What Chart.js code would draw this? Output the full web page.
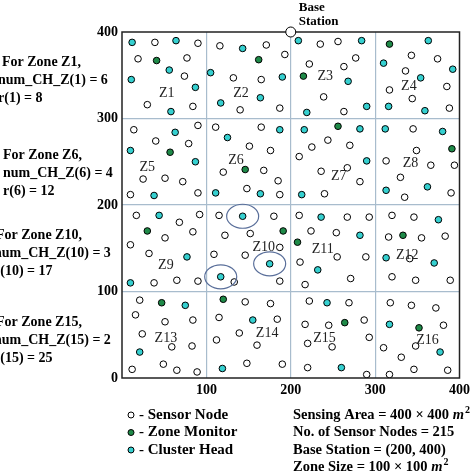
<!DOCTYPE html>
<html>
<head>
<meta charset="utf-8">
<script src="https://cdn.jsdelivr.net/npm/chart.js@4"></script>
<style>body{margin:0;background:#fff}</style>
</head>
<body>
<canvas id="net" width="474" height="474"></canvas>
<script>
// [x, y] positions of nodes
const sensorNodes = [
  [39,388],[90,387],[19,369],[77,370],[74,349],[30,316],[84,314],
  [116,384],[171,385],[193,374],[132,347],[165,345],[140,310],[187,312],
  [235,386],[256,389],[277,370],[222,363],[263,360],[239,325],[263,308],
  [343,373],[374,369],[336,355],[385,337],[317,333],[344,323],[388,312],
  [14,287],[90,292],[40,274],[79,271],[25,230],[51,231],[72,227],[10,212],[90,214],
  [111,290],[165,290],[151,268],[176,263],[120,238],[168,240],[185,228],[148,219],[187,212],
  [244,275],[225,267],[270,269],[210,256],[267,243],[236,239],[282,227],[240,213],
  [345,288],[349,263],[313,251],[366,246],[394,246],[330,232],[335,209],[390,214],
  [17,188],[92,189],[68,180],[84,169],[51,162],[10,154],[32,144],[38,110],[65,113],[90,112],
  [115,188],[180,187],[122,165],[152,167],[109,143],[146,142],[187,151],[133,111],[187,112],
  [210,188],[267,186],[293,186],[224,170],[254,168],[255,140],[289,140],[211,134],[271,115],[217,108],
  [320,188],[346,186],[316,163],[355,162],[383,164],[341,138],[320,117],[348,113],[389,113],
  [21,90],[16,73],[51,65],[84,67],[24,51],[59,36],[83,37],[49,16],[65,9],[89,7],[12,10],
  [146,88],[176,86],[115,70],[184,68],[139,52],[112,44],[160,38],[148,17],[190,16],
  [222,89],[269,87],[217,62],[245,61],[287,67],[293,47],[220,40],[249,36],[220,12],[290,4],
  [318,87],[343,84],[372,81],[381,61],[310,35],[348,37],[331,24],[346,10],[317,4],[386,9]
];
const zoneMonitors = [
  [41,367],[162,368],[215,349],[317,386],[57,261],[146,241],[256,291],[391,265],
  [30,170],[191,170],[208,157],[333,165],[47,87],[120,91],[264,64],[352,58]
];
const clusterHeads = [
  [12,388],[64,390],[56,356],[11,345],[87,336],[58,308],
  [143,381],[105,353],[190,348],[164,324],[117,318],
  [209,390],[284,390],[268,343],[219,307],[290,314],
  [363,390],[310,364],[392,357],[354,347],[316,314],[359,309],
  [63,284],[10,263],[87,250],[38,211],
  [125,278],[187,287],[111,214],[164,213],
  [216,287],[282,288],[290,251],[213,212],
  [312,288],[380,285],[362,221],[313,217],
  [44,188],[77,140],[10,110],
  [143,187],[175,132],[117,117],
  [236,186],[282,165],[232,125],
  [375,183],[313,139],[370,133],
  [75,84],[21,30],[155,67],[119,11],[243,87],[260,12],[317,62],[377,30]
];
const baseStation = [200, 400];
const zoneNames = ['Z1','Z2','Z3','Z4','Z5','Z6','Z7','Z8','Z9','Z10','Z11','Z12','Z13','Z14','Z15','Z16'];
const zoneLabelPos = [[53,329],[141,329],[241,349],[340,337],[30,244],[135,252],[257,233],[342,248],
  [52,130],[168,151],[238,149],[338,142],[52,46],[172,52],[240,46],[362,44]];
const highlighted = [[143,187],[175,132],[117,117]];
const xTicks = [100, 200, 300, 400];
const yTicks = [0, 100, 200, 300, 400];
const zoneNotes = [
  ['For Zone Z1,', 'num_CH_Z(1) = 6', 'r(1) = 8'],
  ['For Zone Z6,', 'num_CH_Z(6) = 4', 'r(6) = 12'],
  ['For Zone Z10,', 'num_CH_Z(10) = 3', 'r(10) = 17'],
  ['For Zone Z15,', 'num_CH_Z(15) = 2', 'r(15) = 25']
];
const legendItems = ['- Sensor Node', '- Zone Monitor', '- Cluster Head'];
const infoLines = ['Sensing Area = 400 \u00d7 400 ', 'No. of Sensor Nodes = 215', 'Base Station = (200, 400)', 'Zone Size = 100 \u00d7 100 '];

const toPts = arr => arr.map(p => ({x: p[0], y: p[1]}));
const SERIF = '"Liberation Serif", "DejaVu Serif", serif';

const extras = {
  id: 'extras',
  afterDraw(chart) {
    const ctx = chart.ctx, xs = chart.scales.x, ys = chart.scales.y, a = chart.chartArea;
    ctx.save();
    // frame
    ctx.strokeStyle = '#222'; ctx.lineWidth = 1.5;
    ctx.strokeRect(a.left, a.top, a.right - a.left, a.bottom - a.top);
    // highlight ellipses
    ctx.strokeStyle = '#5a6f9a'; ctx.lineWidth = 1.2;
    highlighted.forEach(p => {
      ctx.beginPath();
      ctx.ellipse(xs.getPixelForValue(p[0]), ys.getPixelForValue(p[1]), 16, 12, 0, 0, Math.PI * 2);
      ctx.stroke();
    });
    // zone labels
    ctx.fillStyle = '#222'; ctx.font = '14px ' + SERIF;
    ctx.textAlign = 'center'; ctx.textBaseline = 'middle';
    zoneNames.forEach((n, i) => ctx.fillText(n, xs.getPixelForValue(zoneLabelPos[i][0]), ys.getPixelForValue(zoneLabelPos[i][1])));
    // base station
    const bx = xs.getPixelForValue(baseStation[0]), by = ys.getPixelForValue(baseStation[1]);
    ctx.beginPath(); ctx.arc(bx, by, 5, 0, Math.PI * 2);
    ctx.fillStyle = '#fff'; ctx.fill(); ctx.strokeStyle = '#000'; ctx.lineWidth = 1; ctx.stroke();
    ctx.fillStyle = '#000'; ctx.font = 'bold 13px ' + SERIF; ctx.textAlign = 'left';
    ctx.fillText('Base', bx + 8, 8);
    ctx.fillText('Station', bx + 8, 22);
    // zone notes
    ctx.font = 'bold 14px ' + SERIF;
    const noteY = [62, 155, 235, 322], noteX = [2, 3, -4, -4], noteX2 = [-2, 3, -6, -6];
    zoneNotes.forEach((lines, i) => lines.forEach((t, j) => {
      ctx.fillText(t, j === 0 ? noteX[i] : noteX2[i], noteY[i] + j * 18);
    }));
    // legend
    const fills = ['#fff', '#1e8a48', '#35d0d0'];
    ctx.font = 'bold 15px ' + SERIF;
    legendItems.forEach((t, i) => {
      const ly = 415 + i * 17.5;
      ctx.beginPath(); ctx.arc(131, ly, 3, 0, Math.PI * 2);
      ctx.fillStyle = fills[i]; ctx.fill(); ctx.strokeStyle = '#000'; ctx.stroke();
      ctx.fillStyle = '#000'; ctx.fillText(t, 139, ly);
    });
    infoLines.forEach((t, i) => {
      const ly = 415 + i * 17.5;
      ctx.font = 'bold 14.5px ' + SERIF;
      ctx.fillText(t, 293, ly);
      if (i === 0 || i === 3) {
        const w = ctx.measureText(t).width;
        ctx.font = 'bold italic 14.5px ' + SERIF;
        ctx.fillText('m', 293 + w, ly);
        const mw = ctx.measureText('m').width;
        ctx.font = 'bold 10px ' + SERIF;
        ctx.fillText('2', 293 + w + mw + 1, ly - 5);
      }
    });
    ctx.restore();
  }
};

const ptStyle = (bg, label, data) => ({
  label, data: toPts(data), backgroundColor: bg, borderColor: '#000',
  borderWidth: 1, pointRadius: 3.3, pointHoverRadius: 3.3
});

new Chart(document.getElementById('net'), {
  type: 'scatter',
  data: {
    datasets: [
      ptStyle('#ffffff', 'Sensor Node', sensorNodes),
      ptStyle('#1e8a48', 'Zone Monitor', zoneMonitors),
      ptStyle('#35d0d0', 'Cluster Head', clusterHeads)
    ]
  },
  plugins: [extras],
  options: {
    responsive: false,
    animation: false,
    events: [],
    layout: {padding: {left: 92, top: 32, right: 2, bottom: 0}},
    plugins: {legend: {display: false}, tooltip: {enabled: false}},
    scales: {
      x: {
        min: 0, max: 400,
        afterFit: s => { s.height = 96; },
        afterBuildTicks: s => { s.ticks = [0].concat(xTicks).map(v => ({value: v})); },
        ticks: {
          callback: v => v === 0 ? '' : v,
          color: '#000', font: {family: SERIF, weight: 'bold', size: 14}, padding: 4, maxRotation: 0
        },
        grid: {color: c => (c.tick.value === 0 || c.tick.value === 400) ? 'rgba(0,0,0,0)' : '#a8bccd', lineWidth: 1.2, drawTicks: false},
        border: {display: false}
      },
      y: {
        min: 0, max: 400,
        afterFit: s => { s.width = 30; },
        afterBuildTicks: s => { s.ticks = yTicks.map(v => ({value: v})); },
        ticks: {color: '#000', font: {family: SERIF, weight: 'bold', size: 14}, padding: 4},
        grid: {color: c => (c.tick.value === 0 || c.tick.value === 400) ? 'rgba(0,0,0,0)' : '#a8bccd', lineWidth: 1.2, drawTicks: false},
        border: {display: false}
      }
    }
  }
});
</script>
</body>
</html>
